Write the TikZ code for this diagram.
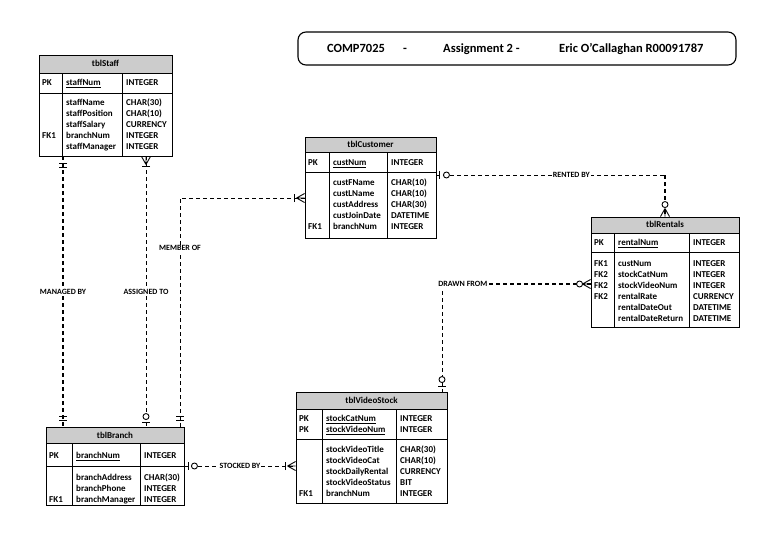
\documentclass[tikz,border=0pt]{standalone}
\usepackage{fontspec}
\setmainfont{Carlito}
\usetikzlibrary{fit}
\tikzset{
  tblbox/.style={draw, line width=0.9pt, inner sep=0pt},
  cell/.style={font=\fontsize{9}{10}\selectfont\bfseries, inner sep=0pt, text height=5.9pt, text depth=0pt, anchor=west},
  hdrtxt/.style={cell, anchor=center},
  ttl/.style={font=\fontsize{12.5}{14}\selectfont\bfseries, inner sep=0pt, text height=8pt, text depth=0pt},
  rel/.style={line width=0.9pt, dash pattern=on 4pt off 3pt},
  relthick/.style={line width=1.8pt, dash pattern=on 4pt off 3pt},
  lbl/.style={font=\fontsize{8}{9}\selectfont\bfseries, fill=white, inner sep=1pt},
  mk/.style={solid, line width=0.9pt},
  pics/bar/.style={code={\draw[mk] (#1,-4) -- (#1,4);}},
  pics/circ/.style={code={\draw[mk, fill=white] (#1,0) circle[radius=3];}},
  pics/crow/.style={code={\draw[mk] (0,-4.5) -- (8,0) (0,0) -- (8,0) (0,4.5) -- (8,0);}},
}
\newcommand\ertable[9]{%
  \fill[white] (#2,#3) rectangle (#4,#5);
  \fill[black!20] (#2,#3) rectangle (#4,#6);
  \draw[line width=0.9pt] (#2,#6) -- (#4,#6) (#2,#7) -- (#4,#7) (#8,#6) -- (#8,#5) (#9,#6) -- (#9,#5);
  \node[tblbox, fit={(#2,#3) (#4,#5)}] (#1) {};
}
\newcommand\ercol[4]{%
  \foreach \t [count=\i] in {#4} {\node[cell] (#1\i) at (#2,{#3+(\i-1)*10.9}) {\t};}}
\begin{document}
\begin{tikzpicture}[x=1pt,y=-1pt]
\useasboundingbox (0,0) rectangle (768,543);
\fill[white] (0,0) rectangle (768,543);

% title
\node[draw, rounded corners=8pt, line width=1.1pt, inner sep=0pt, fit={(298,32) (736,65)}] (title) {};
\node[ttl] (t1) at (356,48.5) {COMP7025};
\node[ttl] (t2) at (405,48.5) {-};
\node[ttl, anchor=west] (t3) at (443,48.5) {Assignment 2 -};
\node[ttl, anchor=west] (t4) at (559,48.5) {Eric O’Callaghan R00091787};

% tblStaff
\ertable{staff}{39}{55}{172}{156}{73}{93}{62}{122}
\node[hdrtxt] (staffH) at (105.5,64) {tblStaff};
\node[cell] (staffPK) at (42,83) {PK};
\node[cell] (staffPKn) at (66,83) {\underline{staffNum}};
\node[cell] (staffPKt) at (126,83) {INTEGER};
\ercol{staffA}{66}{103}{staffName,staffPosition,staffSalary,branchNum,staffManager}
\ercol{staffB}{126}{103}{CHAR(30),CHAR(10),CURRENCY,INTEGER,INTEGER}
\node[cell] (staffFK) at (42,135.7) {FK1};

% tblCustomer
\ertable{customer}{305}{137}{436}{238}{152}{172}{329}{387}
\node[hdrtxt] (custH) at (370.5,144.5) {tblCustomer};
\node[cell] (custPK) at (308,162.5) {PK};
\node[cell] (custPKn) at (333,162.5) {\underline{custNum}};
\node[cell] (custPKt) at (391,162.5) {INTEGER};
\ercol{custA}{333}{183}{custFName,custLName,custAddress,custJoinDate,branchNum}
\ercol{custB}{391}{183}{CHAR(10),CHAR(10),CHAR(30),DATETIME,INTEGER}
\node[cell] (custFK) at (308,226.6) {FK1};

% tblRentals
\ertable{rentals}{591}{217}{739}{327}{233}{252}{614}{689}
\node[hdrtxt] (rentH) at (665,225) {tblRentals};
\node[cell] (rentPK) at (594,242.5) {PK};
\node[cell] (rentPKn) at (618,242.5) {\underline{rentalNum}};
\node[cell] (rentPKt) at (693,242.5) {INTEGER};
\ercol{rentA}{618}{264}{custNum,stockCatNum,stockVideoNum,rentalRate,rentalDateOut,rentalDateReturn}
\ercol{rentB}{693}{264}{INTEGER,INTEGER,INTEGER,CURRENCY,DATETIME,DATETIME}
\ercol{rentK}{594}{264}{FK1,FK2,FK2,FK2}

% tblVideoStock
\ertable{vstock}{296}{392}{447}{503}{409}{439}{322}{396}
\node[hdrtxt] (vsH) at (371.5,400.5) {tblVideoStock};
\ercol{vsK}{299}{418.5}{PK,PK}
\ercol{vsP}{326}{418.5}{\underline{stockCatNum},\underline{stockVideoNum}}
\ercol{vsT}{400}{418.5}{INTEGER,INTEGER}
\ercol{vsA}{326}{450}{stockVideoTitle,stockVideoCat,stockDailyRental,stockVideoStatus,branchNum}
\ercol{vsB}{400}{450}{CHAR(30),CHAR(10),CURRENCY,BIT,INTEGER}
\node[cell] (vsFK) at (299,493.6) {FK1};

% tblBranch
\ertable{branch}{46}{427}{184}{505}{443}{466}{72}{140}
\node[hdrtxt] (brH) at (115,435.5) {tblBranch};
\node[cell] (brPK) at (49,455.5) {PK};
\node[cell] (brPKn) at (76,455.5) {\underline{branchNum}};
\node[cell] (brPKt) at (144,455.5) {INTEGER};
\ercol{brA}{76}{478}{branchAddress,branchPhone,branchManager}
\ercol{brB}{144}{478}{CHAR(30),INTEGER,INTEGER}
\node[cell] (brFK) at (49,499.8) {FK1};

% helper coordinates
\coordinate (xa) at (63,0);
\coordinate (xb) at (146,0);
\coordinate (xm) at (180,0);
\coordinate (ym) at (0,198);
\coordinate (yr) at (0,175);
\coordinate (xr) at (665,0);
\coordinate (yd) at (0,284);
\coordinate (xd) at (442,0);
\coordinate (ys) at (0,466);
\coordinate (rc) at (xr |- yr);
\coordinate (dc) at (xd |- yd);

% connectors
\draw[relthick] (staff.south -| xa) -- node[lbl] (lblMB) {MANAGED BY} (branch.north -| xa);
\draw[rel] (staff.south -| xb) -- node[lbl] (lblAT) {ASSIGNED TO} (branch.north -| xb);
\draw[rel] (branch.north -| xm) |- node[lbl, pos=0.39] (lblMO) {MEMBER OF} (customer.west |- ym);
\draw[relthick] (rc) -- (rentals.north -| xr);
\draw[rel] (customer.east |- yr) -- node[lbl, pos=0.59] (lblRB) {RENTED BY} (rc);
\draw[rel] (dc) -- (vstock.north -| xd);
\draw[relthick] (rentals.west |- yd) -- node[lbl, pos=0.86] (lblDF) {DRAWN FROM} (dc);
\draw[rel] (branch.east |- ys) -- node[lbl] (lblSB) {STOCKED BY} (vstock.west |- ys);

% markers
\pic[rotate=-90] at (staff.south -| xa) {bar=7};
\pic[rotate=-90] at (staff.south -| xa) {bar=11};
\pic[rotate=90] at (branch.north -| xa) {bar=6};
\pic[rotate=90] at (branch.north -| xa) {bar=10};
\pic[rotate=-90] at (staff.south -| xb) {crow};
\pic[rotate=-90] at (staff.south -| xb) {bar=10};
\pic[rotate=90] at (branch.north -| xb) {bar=4};
\pic[rotate=90] at (branch.north -| xb) {circ=10};
\pic[rotate=90] at (branch.north -| xm) {bar=6};
\pic[rotate=90] at (branch.north -| xm) {bar=10};
\pic[rotate=180] at (customer.west |- ym) {crow};
\pic[rotate=180] at (customer.west |- ym) {bar=10};
\pic at (customer.east |- yr) {bar=3};
\pic at (customer.east |- yr) {circ=10};
\pic[rotate=90] at (rentals.north -| xr) {crow};
\pic[rotate=90] at (rentals.north -| xr) {circ=12};
\pic[rotate=180] at (rentals.west |- yd) {crow};
\pic[rotate=180] at (rentals.west |- yd) {circ=11};
\pic[rotate=90] at (vstock.north -| xd) {bar=5};
\pic[rotate=90] at (vstock.north -| xd) {circ=12};
\pic at (branch.east |- ys) {bar=4};
\pic at (branch.east |- ys) {circ=10};
\pic[rotate=180] at (vstock.west |- ys) {crow};
\pic[rotate=180] at (vstock.west |- ys) {bar=10};
\end{tikzpicture}
\end{document}
